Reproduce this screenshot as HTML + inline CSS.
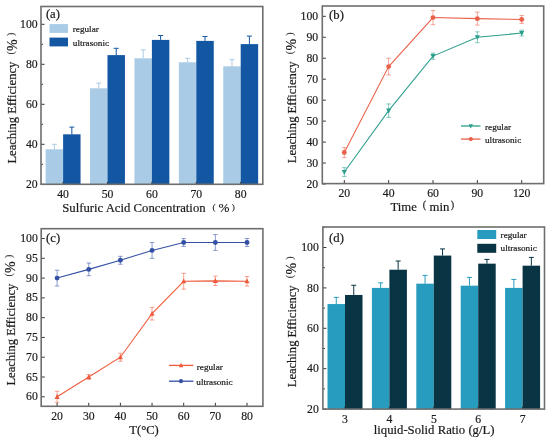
<!DOCTYPE html>
<html><head><meta charset="utf-8"><style>
html,body{margin:0;padding:0;background:#fff;}
svg{display:block;will-change:transform;}
text{font-family:"Liberation Serif", serif;fill:#1a1a1a;stroke:#1a1a1a;stroke-width:0.2px;}
text.p{stroke-width:0.12px;}
</style></head><body>
<svg width="550" height="443" viewBox="0 0 550 443">
<rect width="550" height="443" fill="#fff"/>
<rect x="45.65" y="149.3" width="17.45" height="35" fill="#a9cbe6"/>
<rect x="63.1" y="134.3" width="17.45" height="50" fill="#1357a3"/>
<path d="M54.38 149.3V144.3M51.88 144.3H56.88" stroke="#a9cbe6" stroke-width="1" fill="none" stroke-opacity="1"/>
<path d="M71.83 134.3V127.1M69.33 127.1H74.33" stroke="#1357a3" stroke-width="1" fill="none" stroke-opacity="1"/>
<text transform="translate(63.1,197.5) scale(0.875,1)" font-size="13.4" text-anchor="middle">40</text>
<line x1="63.1" y1="184.3" x2="63.1" y2="181.8" stroke="#333" stroke-width="1"/>
<rect x="90.05" y="88.3" width="17.45" height="96" fill="#a9cbe6"/>
<rect x="107.5" y="55.1" width="17.45" height="129.2" fill="#1357a3"/>
<path d="M98.78 88.3V83.1M96.28 83.1H101.28" stroke="#a9cbe6" stroke-width="1" fill="none" stroke-opacity="1"/>
<path d="M116.22 55.1V48.3M113.72 48.3H118.72" stroke="#1357a3" stroke-width="1" fill="none" stroke-opacity="1"/>
<text transform="translate(107.5,197.5) scale(0.875,1)" font-size="13.4" text-anchor="middle">50</text>
<line x1="107.5" y1="184.3" x2="107.5" y2="181.8" stroke="#333" stroke-width="1"/>
<rect x="134.45" y="58.3" width="17.45" height="126" fill="#a9cbe6"/>
<rect x="151.9" y="39.9" width="17.45" height="144.4" fill="#1357a3"/>
<path d="M143.18 58.3V49.9M140.68 49.9H145.68" stroke="#a9cbe6" stroke-width="1" fill="none" stroke-opacity="1"/>
<path d="M160.62 39.9V35.5M158.12 35.5H163.12" stroke="#1357a3" stroke-width="1" fill="none" stroke-opacity="1"/>
<text transform="translate(151.9,197.5) scale(0.875,1)" font-size="13.4" text-anchor="middle">60</text>
<line x1="151.9" y1="184.3" x2="151.9" y2="181.8" stroke="#333" stroke-width="1"/>
<rect x="178.85" y="62.3" width="17.45" height="122" fill="#a9cbe6"/>
<rect x="196.3" y="40.9" width="17.45" height="143.4" fill="#1357a3"/>
<path d="M187.57 62.3V58.3M185.07 58.3H190.07" stroke="#a9cbe6" stroke-width="1" fill="none" stroke-opacity="1"/>
<path d="M205.02 40.9V36.5M202.52 36.5H207.52" stroke="#1357a3" stroke-width="1" fill="none" stroke-opacity="1"/>
<text transform="translate(196.3,197.5) scale(0.875,1)" font-size="13.4" text-anchor="middle">70</text>
<line x1="196.3" y1="184.3" x2="196.3" y2="181.8" stroke="#333" stroke-width="1"/>
<rect x="223.25" y="66.3" width="17.45" height="118" fill="#a9cbe6"/>
<rect x="240.7" y="44.1" width="17.45" height="140.2" fill="#1357a3"/>
<path d="M231.97 66.3V59.7M229.47 59.7H234.47" stroke="#a9cbe6" stroke-width="1" fill="none" stroke-opacity="1"/>
<path d="M249.42 44.1V36.1M246.92 36.1H251.92" stroke="#1357a3" stroke-width="1" fill="none" stroke-opacity="1"/>
<text transform="translate(240.7,197.5) scale(0.875,1)" font-size="13.4" text-anchor="middle">80</text>
<line x1="240.7" y1="184.3" x2="240.7" y2="181.8" stroke="#333" stroke-width="1"/>
<line x1="41" y1="184.3" x2="44.5" y2="184.3" stroke="#333" stroke-width="1"/>
<line x1="41" y1="164.3" x2="43" y2="164.3" stroke="#333" stroke-width="1"/>
<line x1="41" y1="144.3" x2="44.5" y2="144.3" stroke="#333" stroke-width="1"/>
<line x1="41" y1="124.3" x2="43" y2="124.3" stroke="#333" stroke-width="1"/>
<line x1="41" y1="104.3" x2="44.5" y2="104.3" stroke="#333" stroke-width="1"/>
<line x1="41" y1="84.3" x2="43" y2="84.3" stroke="#333" stroke-width="1"/>
<line x1="41" y1="64.3" x2="44.5" y2="64.3" stroke="#333" stroke-width="1"/>
<line x1="41" y1="44.3" x2="43" y2="44.3" stroke="#333" stroke-width="1"/>
<line x1="41" y1="24.3" x2="44.5" y2="24.3" stroke="#333" stroke-width="1"/>
<text transform="translate(37.6,187.9) scale(0.875,1)" font-size="13.4" text-anchor="end">20</text>
<text transform="translate(37.6,147.9) scale(0.875,1)" font-size="13.4" text-anchor="end">40</text>
<text transform="translate(37.6,107.9) scale(0.875,1)" font-size="13.4" text-anchor="end">60</text>
<text transform="translate(37.6,67.9) scale(0.875,1)" font-size="13.4" text-anchor="end">80</text>
<text transform="translate(37.6,27.9) scale(0.875,1)" font-size="13.4" text-anchor="end">100</text>
<rect x="41" y="6.5" width="221.8" height="177.8" fill="none" stroke="#6e6e6e" stroke-width="1.6"/>
<text transform="translate(45.9,17.8) scale(1.1,1)" font-size="11.5" text-anchor="start">(a)</text>
<rect x="49.5" y="24.1" width="18.5" height="8.8" fill="#a9cbe6"/>
<rect x="49.5" y="37.6" width="18.5" height="8.8" fill="#1357a3"/>
<text transform="translate(72.8,32.2) scale(1.0,1)" font-size="9.2" text-anchor="start">regular</text>
<text transform="translate(72.8,45.8) scale(1.0,1)" font-size="9.2" text-anchor="start">ultrasonic</text>
<text transform="translate(62.2,211.5) scale(0.995,1)" font-size="12.8" text-anchor="start">Sulfuric Acid Concentration</text>
<text class="p" transform="translate(212.6,210.3)" font-size="9.2">(</text>
<text transform="translate(218.5,212) scale(1.0,1)" font-size="13.2" text-anchor="start">%</text>
<text class="p" transform="translate(231.8,210.3)" font-size="9.2">)</text>
<g transform="translate(16.2,163.2) rotate(-90)"><text transform="translate(-0.37,0)" font-size="12.55">Leaching Efficiency</text><text class="p" transform="translate(108.6,-2.5)" font-size="9.8">(</text><text transform="translate(112.3,0.6)" font-size="14">%</text><text class="p" transform="translate(127.1,-2.5)" font-size="9.8">)</text></g>
<polyline points="344.3,152.56 388.65,66.62 433,17.58 477.35,18.63 521.7,19.46" fill="none" stroke="#ea6149" stroke-width="1.05"/>
<path d="M344.3 157.59V147.53M342.05 147.53H346.55M342.05 157.59H346.55" stroke="#ea6149" stroke-width="0.8" fill="none" stroke-opacity="0.7"/>
<circle cx="344.3" cy="152.56" r="2.45" fill="#ea6149"/>
<path d="M388.65 75.01V58.24M386.4 58.24H390.9M386.4 75.01H390.9" stroke="#ea6149" stroke-width="0.8" fill="none" stroke-opacity="0.7"/>
<circle cx="388.65" cy="66.62" r="2.45" fill="#ea6149"/>
<path d="M433 24.7V10.45M430.75 10.45H435.25M430.75 24.7H435.25" stroke="#ea6149" stroke-width="0.8" fill="none" stroke-opacity="0.7"/>
<circle cx="433" cy="17.58" r="2.45" fill="#ea6149"/>
<path d="M477.35 25.12V12.13M475.1 12.13H479.6M475.1 25.12H479.6" stroke="#ea6149" stroke-width="0.8" fill="none" stroke-opacity="0.7"/>
<circle cx="477.35" cy="18.63" r="2.45" fill="#ea6149"/>
<path d="M521.7 23.45V15.48M519.45 15.48H523.95M519.45 23.45H523.95" stroke="#ea6149" stroke-width="0.8" fill="none" stroke-opacity="0.7"/>
<circle cx="521.7" cy="19.46" r="2.45" fill="#ea6149"/>
<polyline points="344.3,172.05 388.65,110.64 433,56.14 477.35,37.28 521.7,33.09" fill="none" stroke="#2b9f8c" stroke-width="1.05"/>
<path d="M344.3 176.45V167.65M342.05 167.65H346.55M342.05 176.45H346.55" stroke="#2b9f8c" stroke-width="0.8" fill="none" stroke-opacity="0.7"/>
<path d="M341.73 169.97H346.87L344.3 174.87Z" fill="#2b9f8c"/>
<path d="M388.65 117.35V103.93M386.4 103.93H390.9M386.4 117.35H390.9" stroke="#2b9f8c" stroke-width="0.8" fill="none" stroke-opacity="0.7"/>
<path d="M386.08 108.56H391.22L388.65 113.46Z" fill="#2b9f8c"/>
<path d="M433 59.29V53M430.75 53H435.25M430.75 59.29H435.25" stroke="#2b9f8c" stroke-width="0.8" fill="none" stroke-opacity="0.7"/>
<path d="M430.43 54.06H435.57L433 58.96Z" fill="#2b9f8c"/>
<path d="M477.35 42.73V31.83M475.1 31.83H479.6M475.1 42.73H479.6" stroke="#2b9f8c" stroke-width="0.8" fill="none" stroke-opacity="0.7"/>
<path d="M474.78 35.2H479.92L477.35 40.1Z" fill="#2b9f8c"/>
<path d="M521.7 36.02V30.15M519.45 30.15H523.95M519.45 36.02H523.95" stroke="#2b9f8c" stroke-width="0.8" fill="none" stroke-opacity="0.7"/>
<path d="M519.13 31.01H524.27L521.7 35.91Z" fill="#2b9f8c"/>
<line x1="322.3" y1="184" x2="325.8" y2="184" stroke="#333" stroke-width="1"/>
<text transform="translate(318.1,187.6) scale(0.875,1)" font-size="13.4" text-anchor="end">20</text>
<line x1="322.3" y1="163.04" x2="325.8" y2="163.04" stroke="#333" stroke-width="1"/>
<text transform="translate(318.1,166.64) scale(0.875,1)" font-size="13.4" text-anchor="end">30</text>
<line x1="322.3" y1="142.08" x2="325.8" y2="142.08" stroke="#333" stroke-width="1"/>
<text transform="translate(318.1,145.68) scale(0.875,1)" font-size="13.4" text-anchor="end">40</text>
<line x1="322.3" y1="121.12" x2="325.8" y2="121.12" stroke="#333" stroke-width="1"/>
<text transform="translate(318.1,124.72) scale(0.875,1)" font-size="13.4" text-anchor="end">50</text>
<line x1="322.3" y1="100.16" x2="325.8" y2="100.16" stroke="#333" stroke-width="1"/>
<text transform="translate(318.1,103.76) scale(0.875,1)" font-size="13.4" text-anchor="end">60</text>
<line x1="322.3" y1="79.2" x2="325.8" y2="79.2" stroke="#333" stroke-width="1"/>
<text transform="translate(318.1,82.8) scale(0.875,1)" font-size="13.4" text-anchor="end">70</text>
<line x1="322.3" y1="58.24" x2="325.8" y2="58.24" stroke="#333" stroke-width="1"/>
<text transform="translate(318.1,61.84) scale(0.875,1)" font-size="13.4" text-anchor="end">80</text>
<line x1="322.3" y1="37.28" x2="325.8" y2="37.28" stroke="#333" stroke-width="1"/>
<text transform="translate(318.1,40.88) scale(0.875,1)" font-size="13.4" text-anchor="end">90</text>
<line x1="322.3" y1="16.32" x2="325.8" y2="16.32" stroke="#333" stroke-width="1"/>
<text transform="translate(318.1,19.92) scale(0.875,1)" font-size="13.4" text-anchor="end">100</text>
<line x1="344.3" y1="183.6" x2="344.3" y2="180.1" stroke="#333" stroke-width="1"/>
<text transform="translate(344.3,197.2) scale(0.875,1)" font-size="13.4" text-anchor="middle">20</text>
<line x1="388.65" y1="183.6" x2="388.65" y2="180.1" stroke="#333" stroke-width="1"/>
<text transform="translate(388.65,197.2) scale(0.875,1)" font-size="13.4" text-anchor="middle">40</text>
<line x1="433" y1="183.6" x2="433" y2="180.1" stroke="#333" stroke-width="1"/>
<text transform="translate(433,197.2) scale(0.875,1)" font-size="13.4" text-anchor="middle">60</text>
<line x1="477.35" y1="183.6" x2="477.35" y2="180.1" stroke="#333" stroke-width="1"/>
<text transform="translate(477.35,197.2) scale(0.875,1)" font-size="13.4" text-anchor="middle">90</text>
<line x1="521.7" y1="183.6" x2="521.7" y2="180.1" stroke="#333" stroke-width="1"/>
<text transform="translate(521.7,197.2) scale(0.875,1)" font-size="13.4" text-anchor="middle">120</text>
<rect x="322.3" y="6" width="221.4" height="177.6" fill="none" stroke="#6e6e6e" stroke-width="1.6"/>
<text transform="translate(329.1,18.5) scale(1.1,1)" font-size="11.5" text-anchor="start">(b)</text>
<line x1="461" y1="126" x2="480.5" y2="126" stroke="#2b9f8c" stroke-width="1.3"/>
<path d="M468.6 124.22H473L470.8 128.41Z" fill="#2b9f8c"/>
<line x1="461" y1="139.1" x2="480.5" y2="139.1" stroke="#ea6149" stroke-width="1.3"/>
<circle cx="470.8" cy="139.1" r="2.1" fill="#ea6149"/>
<text transform="translate(485,129.8) scale(1.0,1)" font-size="9.2" text-anchor="start">regular</text>
<text transform="translate(485,143.3) scale(1.0,1)" font-size="9.2" text-anchor="start">ultrasonic</text>
<text transform="translate(390.4,210.6) scale(0.995,1)" font-size="12.8" text-anchor="start">Time</text>
<text transform="translate(422.7,208.3) scale(1.0,1)" font-size="10.2" text-anchor="start">(</text>
<text transform="translate(429.6,210.6) scale(0.995,1)" font-size="12.8" text-anchor="start">min</text>
<text transform="translate(450.8,208.3) scale(1.0,1)" font-size="10.2" text-anchor="start">)</text>
<g transform="translate(295.6,162.9) rotate(-90)"><text transform="translate(-0.37,0)" font-size="12.55">Leaching Efficiency</text><text class="p" transform="translate(108.6,-2.5)" font-size="9.8">(</text><text transform="translate(112.3,0.6)" font-size="14">%</text><text class="p" transform="translate(127.1,-2.5)" font-size="9.8">)</text></g>
<polyline points="57.1,278.09 88.75,269.38 120.4,260.28 152.05,250.39 183.7,242.48 215.35,242.48 247,242.48" fill="none" stroke="#3450a4" stroke-width="1.05"/>
<path d="M57.1 286V270.18M54.85 270.18H59.35M54.85 286H59.35" stroke="#3450a4" stroke-width="0.8" fill="none" stroke-opacity="0.7"/>
<circle cx="57.1" cy="278.09" r="2.45" fill="#3450a4"/>
<path d="M88.75 275.72V263.05M86.5 263.05H91M86.5 275.72H91" stroke="#3450a4" stroke-width="0.8" fill="none" stroke-opacity="0.7"/>
<circle cx="88.75" cy="269.38" r="2.45" fill="#3450a4"/>
<path d="M120.4 264.24V256.33M118.15 256.33H122.65M118.15 264.24H122.65" stroke="#3450a4" stroke-width="0.8" fill="none" stroke-opacity="0.7"/>
<circle cx="120.4" cy="260.28" r="2.45" fill="#3450a4"/>
<path d="M152.05 258.31V242.48M149.8 242.48H154.3M149.8 258.31H154.3" stroke="#3450a4" stroke-width="0.8" fill="none" stroke-opacity="0.7"/>
<circle cx="152.05" cy="250.39" r="2.45" fill="#3450a4"/>
<path d="M183.7 246.43V238.52M181.45 238.52H185.95M181.45 246.43H185.95" stroke="#3450a4" stroke-width="0.8" fill="none" stroke-opacity="0.7"/>
<circle cx="183.7" cy="242.48" r="2.45" fill="#3450a4"/>
<path d="M215.35 250.39V234.56M213.1 234.56H217.6M213.1 250.39H217.6" stroke="#3450a4" stroke-width="0.8" fill="none" stroke-opacity="0.7"/>
<circle cx="215.35" cy="242.48" r="2.45" fill="#3450a4"/>
<path d="M247 246.43V238.52M244.75 238.52H249.25M244.75 246.43H249.25" stroke="#3450a4" stroke-width="0.8" fill="none" stroke-opacity="0.7"/>
<circle cx="247" cy="242.48" r="2.45" fill="#3450a4"/>
<polyline points="57.1,396.8 88.75,377.01 120.4,357.23 152.05,313.7 183.7,281.26 215.35,280.86 247,281.26" fill="none" stroke="#ef5b3c" stroke-width="1.05"/>
<path d="M57.1 402.34V391.26M54.85 391.26H59.35M54.85 402.34H59.35" stroke="#ef5b3c" stroke-width="0.8" fill="none" stroke-opacity="0.7"/>
<path d="M54.53 398.88H59.67L57.1 393.98Z" fill="#ef5b3c"/>
<path d="M88.75 379.39V374.64M86.5 374.64H91M86.5 379.39H91" stroke="#ef5b3c" stroke-width="0.8" fill="none" stroke-opacity="0.7"/>
<path d="M86.18 379.1H91.32L88.75 374.2Z" fill="#ef5b3c"/>
<path d="M120.4 361.19V353.27M118.15 353.27H122.65M118.15 361.19H122.65" stroke="#ef5b3c" stroke-width="0.8" fill="none" stroke-opacity="0.7"/>
<path d="M117.83 359.31H122.97L120.4 354.41Z" fill="#ef5b3c"/>
<path d="M152.05 320.03V307.37M149.8 307.37H154.3M149.8 320.03H154.3" stroke="#ef5b3c" stroke-width="0.8" fill="none" stroke-opacity="0.7"/>
<path d="M149.48 315.79H154.62L152.05 310.89Z" fill="#ef5b3c"/>
<path d="M183.7 289.17V273.34M181.45 273.34H185.95M181.45 289.17H185.95" stroke="#ef5b3c" stroke-width="0.8" fill="none" stroke-opacity="0.7"/>
<path d="M181.13 283.34H186.27L183.7 278.44Z" fill="#ef5b3c"/>
<path d="M215.35 285.61V276.11M213.1 276.11H217.6M213.1 285.61H217.6" stroke="#ef5b3c" stroke-width="0.8" fill="none" stroke-opacity="0.7"/>
<path d="M212.78 282.94H217.92L215.35 278.04Z" fill="#ef5b3c"/>
<path d="M247 286V276.51M244.75 276.51H249.25M244.75 286H249.25" stroke="#ef5b3c" stroke-width="0.8" fill="none" stroke-opacity="0.7"/>
<path d="M244.43 283.34H249.57L247 278.44Z" fill="#ef5b3c"/>
<line x1="41.2" y1="396.8" x2="44.7" y2="396.8" stroke="#333" stroke-width="1"/>
<text transform="translate(37.8,400.4) scale(0.875,1)" font-size="13.4" text-anchor="end">60</text>
<line x1="41.2" y1="377.01" x2="44.7" y2="377.01" stroke="#333" stroke-width="1"/>
<text transform="translate(37.8,380.62) scale(0.875,1)" font-size="13.4" text-anchor="end">65</text>
<line x1="41.2" y1="357.23" x2="44.7" y2="357.23" stroke="#333" stroke-width="1"/>
<text transform="translate(37.8,360.83) scale(0.875,1)" font-size="13.4" text-anchor="end">70</text>
<line x1="41.2" y1="337.44" x2="44.7" y2="337.44" stroke="#333" stroke-width="1"/>
<text transform="translate(37.8,341.05) scale(0.875,1)" font-size="13.4" text-anchor="end">75</text>
<line x1="41.2" y1="317.66" x2="44.7" y2="317.66" stroke="#333" stroke-width="1"/>
<text transform="translate(37.8,321.26) scale(0.875,1)" font-size="13.4" text-anchor="end">80</text>
<line x1="41.2" y1="297.88" x2="44.7" y2="297.88" stroke="#333" stroke-width="1"/>
<text transform="translate(37.8,301.48) scale(0.875,1)" font-size="13.4" text-anchor="end">85</text>
<line x1="41.2" y1="278.09" x2="44.7" y2="278.09" stroke="#333" stroke-width="1"/>
<text transform="translate(37.8,281.69) scale(0.875,1)" font-size="13.4" text-anchor="end">90</text>
<line x1="41.2" y1="258.31" x2="44.7" y2="258.31" stroke="#333" stroke-width="1"/>
<text transform="translate(37.8,261.91) scale(0.875,1)" font-size="13.4" text-anchor="end">95</text>
<line x1="41.2" y1="238.52" x2="44.7" y2="238.52" stroke="#333" stroke-width="1"/>
<text transform="translate(37.8,242.12) scale(0.875,1)" font-size="13.4" text-anchor="end">100</text>
<line x1="57.1" y1="406.3" x2="57.1" y2="402.8" stroke="#333" stroke-width="1"/>
<text transform="translate(57.1,419.7) scale(0.875,1)" font-size="13.4" text-anchor="middle">20</text>
<line x1="88.75" y1="406.3" x2="88.75" y2="402.8" stroke="#333" stroke-width="1"/>
<text transform="translate(88.75,419.7) scale(0.875,1)" font-size="13.4" text-anchor="middle">30</text>
<line x1="120.4" y1="406.3" x2="120.4" y2="402.8" stroke="#333" stroke-width="1"/>
<text transform="translate(120.4,419.7) scale(0.875,1)" font-size="13.4" text-anchor="middle">40</text>
<line x1="152.05" y1="406.3" x2="152.05" y2="402.8" stroke="#333" stroke-width="1"/>
<text transform="translate(152.05,419.7) scale(0.875,1)" font-size="13.4" text-anchor="middle">50</text>
<line x1="183.7" y1="406.3" x2="183.7" y2="402.8" stroke="#333" stroke-width="1"/>
<text transform="translate(183.7,419.7) scale(0.875,1)" font-size="13.4" text-anchor="middle">60</text>
<line x1="215.35" y1="406.3" x2="215.35" y2="402.8" stroke="#333" stroke-width="1"/>
<text transform="translate(215.35,419.7) scale(0.875,1)" font-size="13.4" text-anchor="middle">70</text>
<line x1="247" y1="406.3" x2="247" y2="402.8" stroke="#333" stroke-width="1"/>
<text transform="translate(247,419.7) scale(0.875,1)" font-size="13.4" text-anchor="middle">80</text>
<rect x="41.2" y="228.7" width="221.7" height="177.6" fill="none" stroke="#6e6e6e" stroke-width="1.6"/>
<text transform="translate(46.1,241.7) scale(1.1,1)" font-size="11.5" text-anchor="start">(c)</text>
<line x1="169" y1="365.4" x2="193.4" y2="365.4" stroke="#ef5b3c" stroke-width="1.3"/>
<path d="M178.69 367.27H183.31L181 362.87Z" fill="#ef5b3c"/>
<line x1="169" y1="381.2" x2="193.4" y2="381.2" stroke="#3450a4" stroke-width="1.3"/>
<circle cx="181" cy="381.2" r="2.1" fill="#3450a4"/>
<text transform="translate(196.8,369.5) scale(1.0,1)" font-size="9.2" text-anchor="start">regular</text>
<text transform="translate(196.3,384.6) scale(1.0,1)" font-size="9.2" text-anchor="start">ultrasonic</text>
<text transform="translate(129.3,434) scale(1.0,1)" font-size="12.6" text-anchor="start">T(°C)</text>
<g transform="translate(14.7,385.2) rotate(-90)"><text transform="translate(-0.37,0)" font-size="12.55">Leaching Efficiency</text><text class="p" transform="translate(108.6,-2.5)" font-size="9.8">(</text><text transform="translate(112.3,0.6)" font-size="14">%</text><text class="p" transform="translate(127.1,-2.5)" font-size="9.8">)</text></g>
<rect x="327.5" y="304.06" width="17.5" height="105.04" fill="#279cbf"/>
<rect x="345" y="294.97" width="17.5" height="114.13" fill="#083444"/>
<path d="M336.25 304.06V297.39M333.75 297.39H338.75" stroke="#279cbf" stroke-width="1" fill="none" stroke-opacity="1"/>
<path d="M353.75 294.97V285.27M351.25 285.27H356.25" stroke="#083444" stroke-width="1" fill="none" stroke-opacity="1"/>
<text transform="translate(345,422.7) scale(0.875,1)" font-size="13.4" text-anchor="middle">3</text>
<line x1="345" y1="409.1" x2="345" y2="406.6" stroke="#333" stroke-width="1"/>
<rect x="371.9" y="287.9" width="17.5" height="121.2" fill="#279cbf"/>
<rect x="389.4" y="269.72" width="17.5" height="139.38" fill="#083444"/>
<path d="M380.65 287.9V282.85M378.15 282.85H383.15" stroke="#279cbf" stroke-width="1" fill="none" stroke-opacity="1"/>
<path d="M398.15 269.72V261.03M395.65 261.03H400.65" stroke="#083444" stroke-width="1" fill="none" stroke-opacity="1"/>
<text transform="translate(389.4,422.7) scale(0.875,1)" font-size="13.4" text-anchor="middle">4</text>
<line x1="389.4" y1="409.1" x2="389.4" y2="406.6" stroke="#333" stroke-width="1"/>
<rect x="416.3" y="283.66" width="17.5" height="125.44" fill="#279cbf"/>
<rect x="433.8" y="255.58" width="17.5" height="153.52" fill="#083444"/>
<path d="M425.05 283.66V275.38M422.55 275.38H427.55" stroke="#279cbf" stroke-width="1" fill="none" stroke-opacity="1"/>
<path d="M442.55 255.58V248.91M440.05 248.91H445.05" stroke="#083444" stroke-width="1" fill="none" stroke-opacity="1"/>
<text transform="translate(433.8,422.7) scale(0.875,1)" font-size="13.4" text-anchor="middle">5</text>
<line x1="433.8" y1="409.1" x2="433.8" y2="406.6" stroke="#333" stroke-width="1"/>
<rect x="460.7" y="285.68" width="17.5" height="123.42" fill="#279cbf"/>
<rect x="478.2" y="263.66" width="17.5" height="145.44" fill="#083444"/>
<path d="M469.45 285.68V277.4M466.95 277.4H471.95" stroke="#279cbf" stroke-width="1" fill="none" stroke-opacity="1"/>
<path d="M486.95 263.66V259.42M484.45 259.42H489.45" stroke="#083444" stroke-width="1" fill="none" stroke-opacity="1"/>
<text transform="translate(478.2,422.7) scale(0.875,1)" font-size="13.4" text-anchor="middle">6</text>
<line x1="478.2" y1="409.1" x2="478.2" y2="406.6" stroke="#333" stroke-width="1"/>
<rect x="505.1" y="287.9" width="17.5" height="121.2" fill="#279cbf"/>
<rect x="522.6" y="265.68" width="17.5" height="143.42" fill="#083444"/>
<path d="M513.85 287.9V279.42M511.35 279.42H516.35" stroke="#279cbf" stroke-width="1" fill="none" stroke-opacity="1"/>
<path d="M531.35 265.68V257.4M528.85 257.4H533.85" stroke="#083444" stroke-width="1" fill="none" stroke-opacity="1"/>
<text transform="translate(522.6,422.7) scale(0.875,1)" font-size="13.4" text-anchor="middle">7</text>
<line x1="522.6" y1="409.1" x2="522.6" y2="406.6" stroke="#333" stroke-width="1"/>
<line x1="322.9" y1="409.1" x2="326.4" y2="409.1" stroke="#333" stroke-width="1"/>
<line x1="322.9" y1="388.9" x2="324.9" y2="388.9" stroke="#333" stroke-width="1"/>
<line x1="322.9" y1="368.7" x2="326.4" y2="368.7" stroke="#333" stroke-width="1"/>
<line x1="322.9" y1="348.5" x2="324.9" y2="348.5" stroke="#333" stroke-width="1"/>
<line x1="322.9" y1="328.3" x2="326.4" y2="328.3" stroke="#333" stroke-width="1"/>
<line x1="322.9" y1="308.1" x2="324.9" y2="308.1" stroke="#333" stroke-width="1"/>
<line x1="322.9" y1="287.9" x2="326.4" y2="287.9" stroke="#333" stroke-width="1"/>
<line x1="322.9" y1="267.7" x2="324.9" y2="267.7" stroke="#333" stroke-width="1"/>
<line x1="322.9" y1="247.5" x2="326.4" y2="247.5" stroke="#333" stroke-width="1"/>
<line x1="322.9" y1="227.3" x2="324.9" y2="227.3" stroke="#333" stroke-width="1"/>
<text transform="translate(318.8,412.7) scale(0.875,1)" font-size="13.4" text-anchor="end">20</text>
<text transform="translate(318.8,372.3) scale(0.875,1)" font-size="13.4" text-anchor="end">40</text>
<text transform="translate(318.8,331.9) scale(0.875,1)" font-size="13.4" text-anchor="end">60</text>
<text transform="translate(318.8,291.5) scale(0.875,1)" font-size="13.4" text-anchor="end">80</text>
<text transform="translate(318.8,251.1) scale(0.875,1)" font-size="13.4" text-anchor="end">100</text>
<rect x="322.9" y="227" width="221.6" height="182.1" fill="none" stroke="#6e6e6e" stroke-width="1.6"/>
<text transform="translate(329.1,241.7) scale(1.1,1)" font-size="11.5" text-anchor="start">(d)</text>
<rect x="477.3" y="230" width="18.9" height="9" fill="#279cbf"/>
<rect x="477.3" y="243.8" width="18.9" height="9" fill="#083444"/>
<text transform="translate(500.6,238) scale(1.0,1)" font-size="9.2" text-anchor="start">regular</text>
<text transform="translate(500.6,251.3) scale(1.0,1)" font-size="9.2" text-anchor="start">ultrasonic</text>
<text transform="translate(373.7,434) scale(0.995,1)" font-size="12.8" text-anchor="start">liquid-Solid Ratio (g/L)</text>
<g transform="translate(295.6,386.9) rotate(-90)"><text transform="translate(-0.37,0)" font-size="12.55">Leaching Efficiency</text><text class="p" transform="translate(108.6,-2.5)" font-size="9.8">(</text><text transform="translate(112.3,0.6)" font-size="14">%</text><text class="p" transform="translate(127.1,-2.5)" font-size="9.8">)</text></g>
</svg></body></html>
